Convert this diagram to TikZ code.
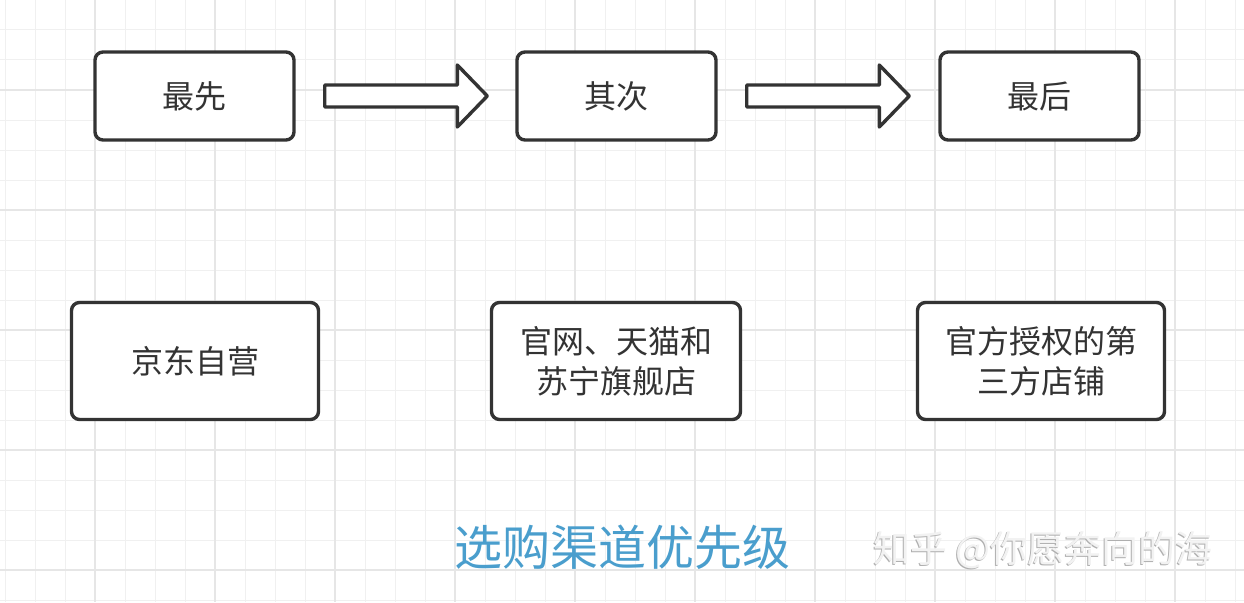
\documentclass[tikz,border=0pt]{standalone}
\usepackage{fontspec}
\newfontfamily\cjk{Noto Sans CJK SC}
\usetikzlibrary{calc}
\definecolor{ink}{HTML}{333333}
\definecolor{gridminor}{HTML}{F0F0F0}
\definecolor{gridmajor}{HTML}{E6E6E6}
\definecolor{titleblue}{HTML}{4A9ECD}
\definecolor{wmshadow}{HTML}{AFAFAF}
\definecolor{wmface}{HTML}{F2F2F2}
\tikzset{
  box/.style={draw=ink, line width=3.4pt, rounded corners=8pt, fill=white,
    inner sep=0pt, text=ink, align=center,
    font=\cjk\fontsize{32}{40}\selectfont},
  blockarrow/.style={draw=ink, line width=3.4pt, fill=white, line join=round},
}
\begin{document}
\begin{tikzpicture}[x=1pt,y=-1pt]
\useasboundingbox (0,0) rectangle (1244,602);
\fill[white] (0,0) rectangle (1244,602);
% grid
\foreach \x in {5,35,...,1240} \draw[gridminor, line width=1pt] (\x,0) -- (\x,602);
\foreach \y in {0,30,...,600} \draw[gridminor, line width=1pt] (0,\y) -- (1244,\y);
\foreach \x in {95,215,...,1240} \draw[gridmajor, line width=1.2pt] (\x,0) -- (\x,602);
\foreach \y in {90,210,...,600} \draw[gridmajor, line width=1.2pt] (0,\y) -- (1244,\y);
% top row
\node[box, minimum width=199pt, minimum height=88pt] (b1) at (194.5,96) {最先};
\node[box, minimum width=199pt, minimum height=88pt] (b2) at (616.5,96) {其次};
\node[box, minimum width=199pt, minimum height=88pt] (b3) at (1039.5,96) {最后};
% bottom row
\node[box, minimum width=247pt, minimum height=117pt] (c1) at (195,361) {京东自营};
\node[box, minimum width=249pt, minimum height=117pt] (c2) at (616,361) {官网、天猫和\\苏宁旗舰店};
\node[box, minimum width=247pt, minimum height=117pt] (c3) at (1041,361) {官方授权的第\\三方店铺};
% block arrows
\coordinate (a1s) at ($(b1.east)+(29,0)$);
\coordinate (a1e) at ($(b2.west)+(-28,0)$);
\coordinate (a2s) at ($(b2.east)+(29,0)$);
\coordinate (a2e) at ($(b3.west)+(-29,0)$);
\foreach \s/\e in {a1s/a1e, a2s/a2e}{
  \draw[blockarrow] ($(\s)+(0,-11)$) -- ($(\e)+(-30,-11)$) -- ($(\e)+(-30,-31)$)
    -- (\e) -- ($(\e)+(-30,31)$) -- ($(\e)+(-30,11)$) -- ($(\s)+(0,11)$) -- cycle;
}
% title
\node[text=titleblue, font=\cjk\fontsize{48}{56}\selectfont, inner sep=0pt] (title) at (622,547) {选购渠道优先级};
% watermark
\node[text=wmshadow, font=\cjk\fontsize{37}{44}\selectfont, inner sep=0pt] (wms) at (1042,551.5) {知乎 @你愿奔向的海};
\node[text=wmface, font=\cjk\fontsize{37}{44}\selectfont, inner sep=0pt] (wm) at (1043,550) {知乎 @你愿奔向的海};
\end{tikzpicture}
\end{document}
